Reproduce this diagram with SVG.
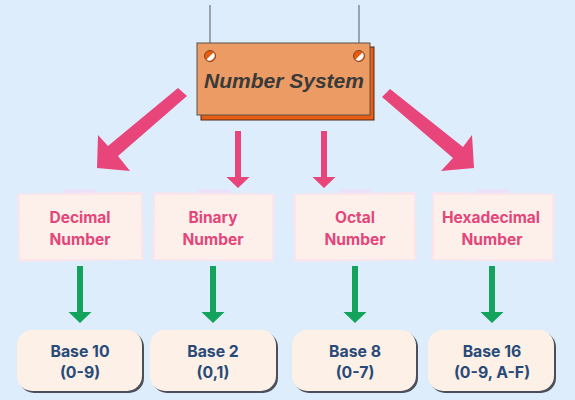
<svg xmlns="http://www.w3.org/2000/svg" width="575" height="400" viewBox="0 0 575 400">
  <style>
    .title { font-family: "Liberation Sans", Arial, sans-serif; font-weight: bold; font-style: italic; font-size: 21px; fill: #3a3a3a; }
    .card-back { fill: #fce4ea; }
    .card-front { fill: #fdf0ea; }
    .tab { fill: #e9e2fa; }
    .card-text { font-family: Inter, "Noto Sans", sans-serif; font-weight: 700; font-size: 15.5px; fill: #e4457a; }
    .base-shadow { fill: #4a4f5a; }
    .base-box { fill: #fdf0e6; }
    .base-text { font-family: Inter, "Noto Sans", sans-serif; font-weight: 700; font-size: 15.8px; fill: #284a78; }
    .pink { fill: #e8457a; }
    .green { fill: #14a35c; }
    .string { stroke: #777b80; stroke-width: 1.3; fill: none; }
    .hole { fill: #e85c10; stroke: #6a3520; stroke-width: 0.8; }
  </style>
  <defs>
    <path id="down-arrow" d="M -3 0 L 3 0 L 3 46 L 11.5 46 L 0 57 L -11.5 46 L -3 46 Z"/>
  </defs>
  <rect width="575" height="400" fill="#ddedfc"/>

  <g id="number-system">
    <line class="string" x1="210" y1="5" x2="210" y2="56"/>
    <line class="string" x1="359" y1="5" x2="359" y2="56"/>
    <rect x="201" y="47" width="173" height="73" fill="#e85d14" stroke="#4a2a18" stroke-width="1"/>
    <rect x="197" y="43" width="173" height="72" fill="#eb9b63" stroke="#5a5048" stroke-width="1"/>
    <circle class="hole" cx="210" cy="56" r="5.5"/>
    <path d="M 213.5 52.5 A 5 5 0 0 1 206.5 59.5 Z" fill="#ffffff"/>
    <circle class="hole" cx="359" cy="56" r="5.5"/>
    <path d="M 362.5 52.5 A 5 5 0 0 1 355.5 59.5 Z" fill="#ffffff"/>
    <text class="title" x="284" y="88" text-anchor="middle">Number System</text>
  </g>

  <g id="connectors">
    <polygon class="pink" points="178,88 187,96 118,156 130,171 97,168 98,135 108,146"/>
    <polygon class="pink" points="390,89 463,147 472,135 474,168 441,171 453,158 382,97"/>
    <use href="#down-arrow" class="pink" x="238" y="131"/>
    <use href="#down-arrow" class="pink" x="324" y="131"/>
    <use href="#down-arrow" class="green" x="80" y="266"/>
    <use href="#down-arrow" class="green" x="213" y="266"/>
    <use href="#down-arrow" class="green" x="355" y="266"/>
    <use href="#down-arrow" class="green" x="492" y="266"/>
  </g>

  <g id="decimal">
    <rect class="tab" x="64" y="189" width="32" height="9"/>
    <rect class="card-back" x="18" y="193" width="125" height="68" transform="rotate(-0.8 80 227)"/>
    <rect class="card-front" x="20" y="195" width="121" height="64"/>
    <text class="card-text" x="80" y="223" text-anchor="middle">Decimal</text>
    <text class="card-text" x="80" y="245" text-anchor="middle">Number</text>
  </g>
  <g id="binary">
    <rect class="tab" x="198" y="189" width="32" height="9"/>
    <rect class="card-back" x="153" y="193" width="121" height="68" transform="rotate(0.8 213 227)"/>
    <rect class="card-front" x="155" y="195" width="117" height="64"/>
    <text class="card-text" x="213" y="223" text-anchor="middle">Binary</text>
    <text class="card-text" x="213" y="245" text-anchor="middle">Number</text>
  </g>
  <g id="octal">
    <rect class="tab" x="339" y="189" width="32" height="9"/>
    <rect class="card-back" x="294" y="193" width="122" height="68" transform="rotate(-0.8 355 227)"/>
    <rect class="card-front" x="296" y="195" width="118" height="64"/>
    <text class="card-text" x="355" y="223" text-anchor="middle">Octal</text>
    <text class="card-text" x="355" y="245" text-anchor="middle">Number</text>
  </g>
  <g id="hexadecimal">
    <rect class="tab" x="477" y="189" width="32" height="9"/>
    <rect class="card-back" x="432" y="193" width="122" height="68" transform="rotate(0.8 493 227)"/>
    <rect class="card-front" x="434" y="195" width="118" height="64"/>
    <text class="card-text" x="491" y="223" text-anchor="middle">Hexadecimal</text>
    <text class="card-text" x="492" y="245" text-anchor="middle">Number</text>
  </g>

  <g id="base10">
    <rect class="base-shadow" x="19" y="332" width="125" height="61" rx="15"/>
    <rect class="base-box" x="17" y="330" width="125" height="61" rx="15"/>
    <text class="base-text" x="80" y="357" text-anchor="middle">Base 10</text>
    <text class="base-text" x="80" y="378" text-anchor="middle">(0-9)</text>
  </g>
  <g id="base2">
    <rect class="base-shadow" x="152" y="332" width="126" height="61" rx="15"/>
    <rect class="base-box" x="150" y="330" width="126" height="61" rx="15"/>
    <text class="base-text" x="213" y="357" text-anchor="middle">Base 2</text>
    <text class="base-text" x="213" y="378" text-anchor="middle">(0,1)</text>
  </g>
  <g id="base8">
    <rect class="base-shadow" x="294" y="332" width="124" height="61" rx="15"/>
    <rect class="base-box" x="292" y="330" width="124" height="61" rx="15"/>
    <text class="base-text" x="355" y="357" text-anchor="middle">Base 8</text>
    <text class="base-text" x="355" y="378" text-anchor="middle">(0-7)</text>
  </g>
  <g id="base16">
    <rect class="base-shadow" x="430" y="332" width="126" height="61" rx="15"/>
    <rect class="base-box" x="428" y="330" width="126" height="61" rx="15"/>
    <text class="base-text" x="492" y="357" text-anchor="middle">Base 16</text>
    <text class="base-text" x="492" y="378" text-anchor="middle">(0-9, A-F)</text>
  </g>
</svg>
